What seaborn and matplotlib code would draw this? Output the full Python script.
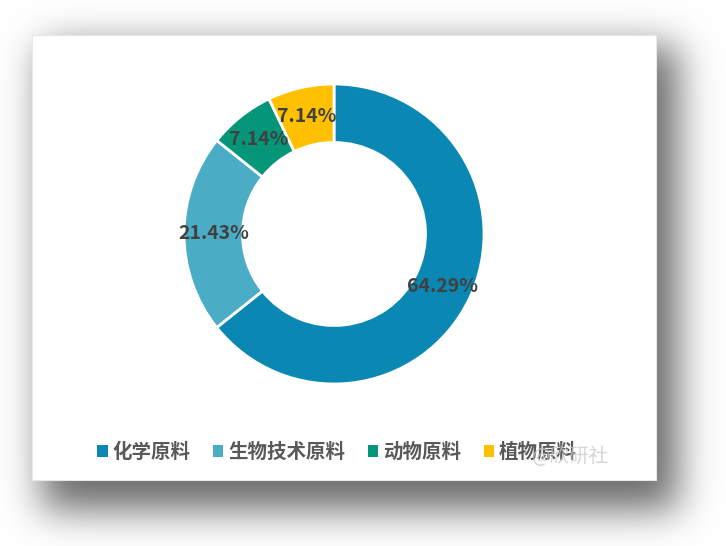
import math
import numpy as np
import seaborn as sns
import matplotlib.pyplot as plt
from matplotlib.patches import Rectangle, Patch

# data
categories = ["化学原料", "生物技术原料", "动物原料", "植物原料"]
shares = [64.29, 21.43, 7.14, 7.14]
colors = ["#0a88b3", "#4bacc6", "#05967a", "#ffc000"]

W, H = 726, 546

sns.set_theme(style="white")
plt.rcParams["font.family"] = ["Noto Sans CJK SC", "DejaVu Sans"]

fig = plt.figure(figsize=(W / 100, H / 100), dpi=100)
fig.patch.set_facecolor("white")

# soft drop shadow behind the card
def blur_step(n, a, b, s):
    t = np.arange(n) + 0.5
    erf = np.vectorize(math.erf)
    return 0.5 * (erf((t - a) / (s * math.sqrt(2))) - erf((t - b) / (s * math.sqrt(2))))

fx = blur_step(W, 42, 678, 19)
fy = blur_step(H, 46, 510, 19)
shade = 1 - 0.58 * np.outer(fy, fx)
bg = fig.add_axes([0, 0, 1, 1])
bg.imshow(np.dstack([shade] * 3), extent=[0, W, H, 0], aspect="auto", interpolation="bilinear")
bg.set_xlim(0, W)
bg.set_ylim(H, 0)
bg.axis("off")
bg.add_patch(Rectangle((32, 35), 624, 445, facecolor="white", edgecolor="#e8e8e8", lw=0.8))

# donut
cx, cy, r = 334, 234, 150
ax = fig.add_axes([(cx - r) / W, (H - cy - r) / H, 2 * r / W, 2 * r / H])
wedges, texts, autotexts = ax.pie(
    shares,
    colors=sns.color_palette(colors),
    startangle=90,
    counterclock=False,
    autopct="%.2f%%",
    pctdistance=0.805,
    wedgeprops=dict(width=0.39, edgecolor="white", linewidth=2),
    textprops=dict(color="#404040", fontsize=14, fontweight="bold"),
)
ax.set_xlim(-1, 1)
ax.set_ylim(-1, 1)
ax.set_aspect("equal")
ax.axis("off")

handles = [Patch(facecolor=c, edgecolor="none") for c in colors]
leg = fig.legend(
    handles, categories,
    loc="center", bbox_to_anchor=(337 / W, (H - 452) / H),
    ncol=4, frameon=False,
    handlelength=0.55, handleheight=0.55, handletextpad=0.25, columnspacing=1.15,
    prop=dict(size=14, weight="bold"),
)
for t in leg.get_texts():
    t.set_color("#595959")

fig.text(570 / W, (H - 457) / H, "@欣研社", ha="center", va="center",
         fontsize=14, color="#c8c8c8", alpha=0.75, zorder=10)

fig.savefig("out.png", dpi=100)
